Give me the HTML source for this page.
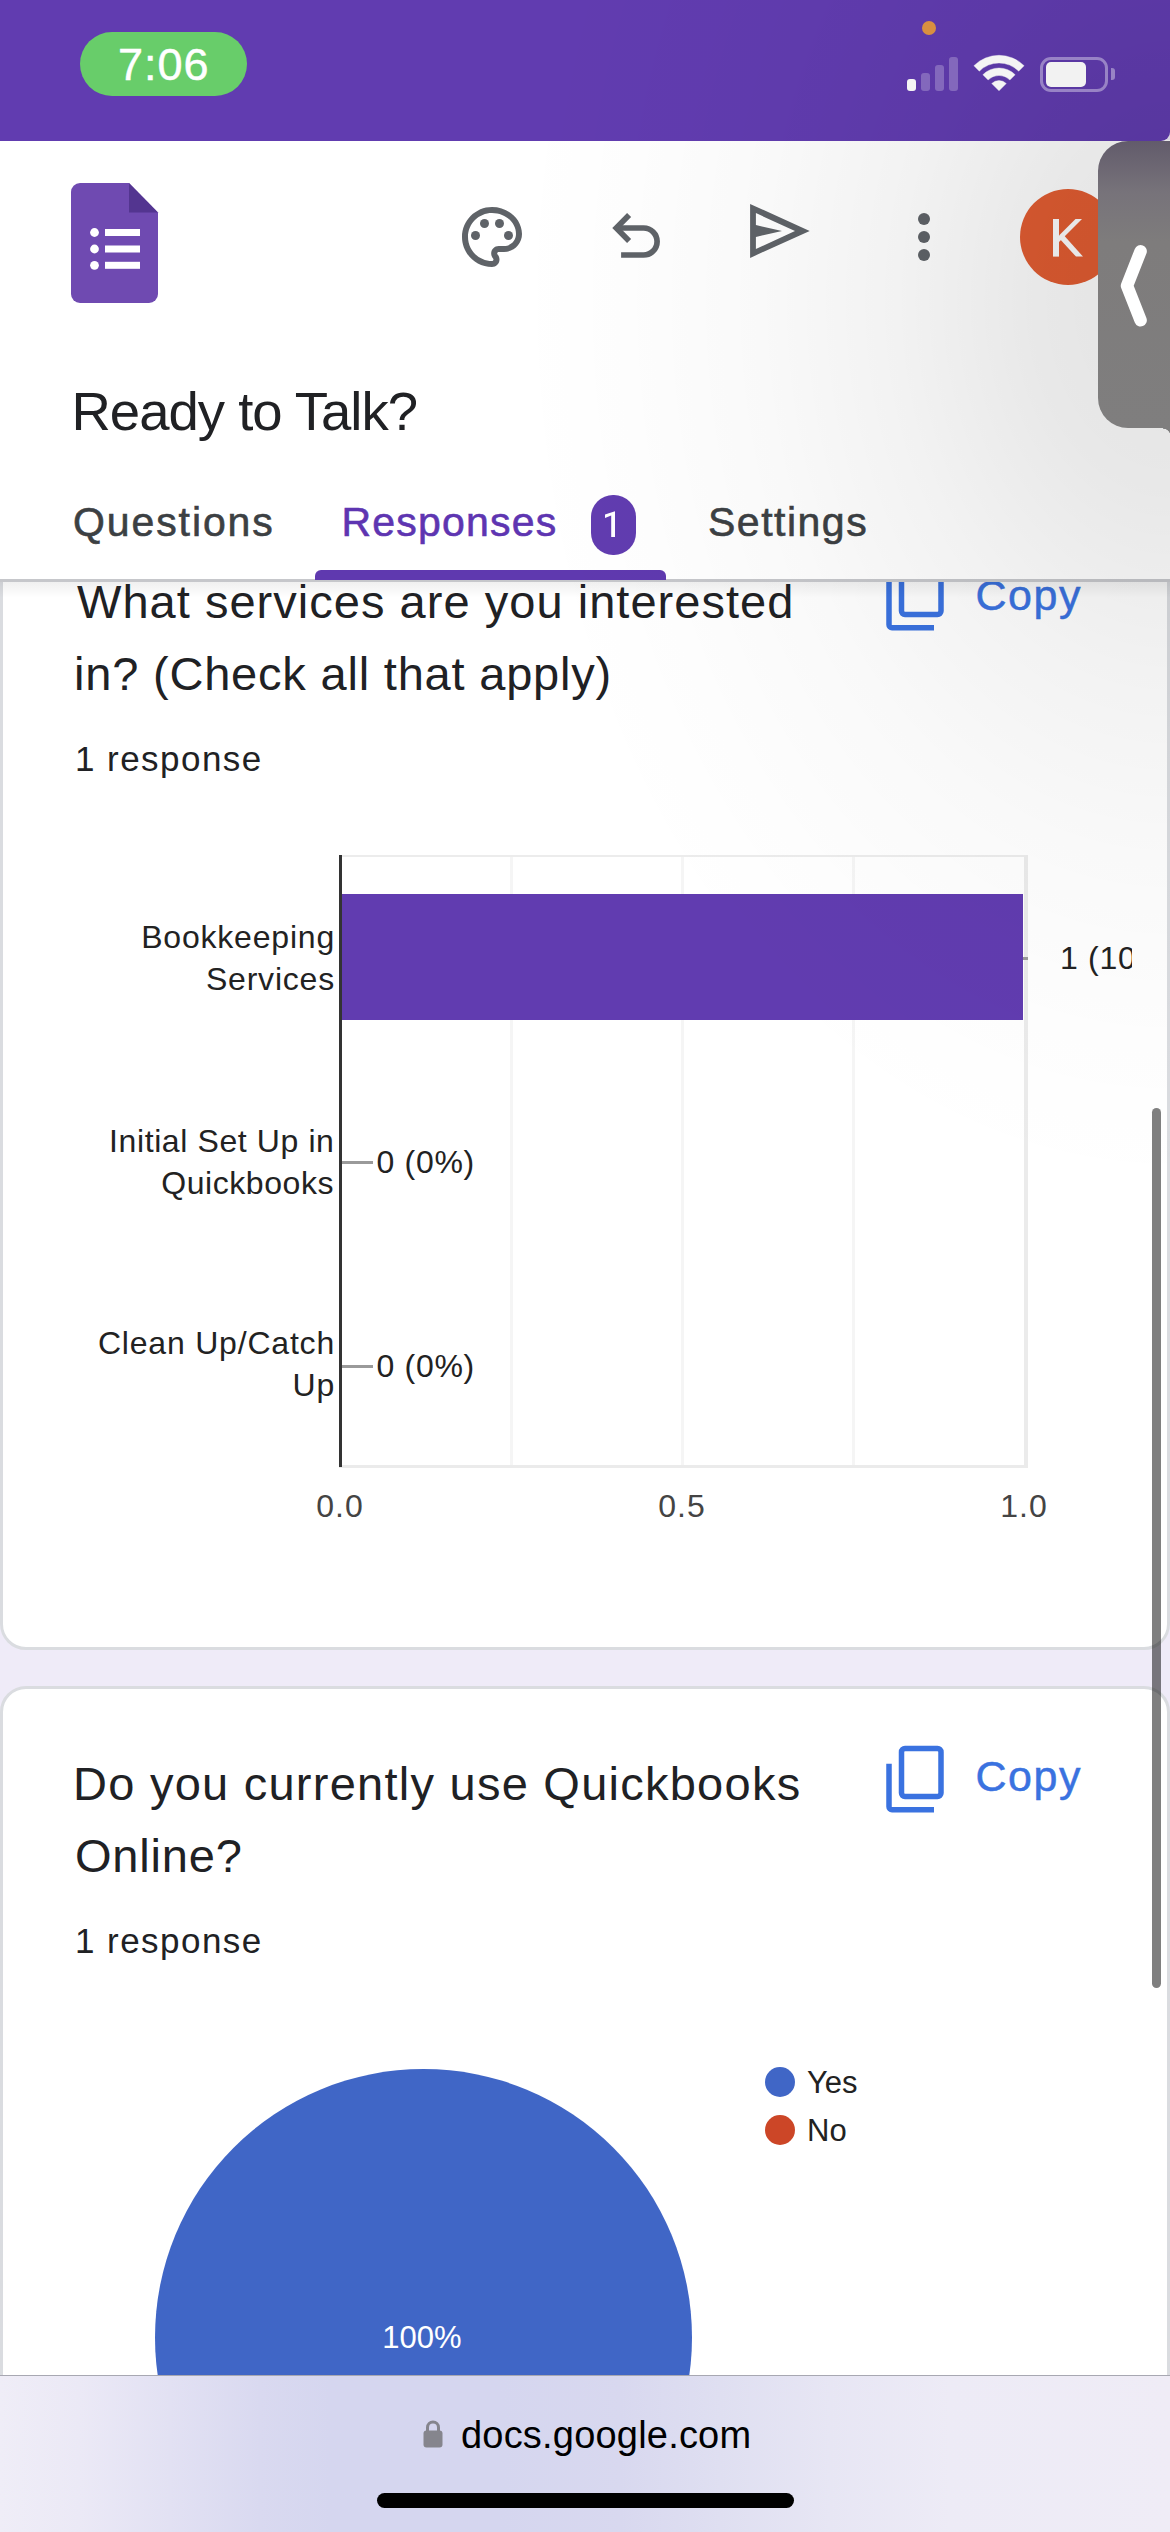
<!DOCTYPE html>
<html><head><meta charset="utf-8">
<style>
*{margin:0;padding:0;box-sizing:border-box}
html,body{width:1170px;height:2532px;overflow:hidden;background:#efebf8;font-family:"Liberation Sans",sans-serif}
.a{position:absolute}
.card{position:absolute;left:0;width:1170px;background:#fff;border:3px solid #dadce0;border-radius:26px}
.t{position:absolute;white-space:nowrap;line-height:1}
.ch{position:absolute;white-space:nowrap;line-height:1;font-size:32px;color:#222}
.cp{position:absolute;white-space:nowrap;line-height:1;font-size:43px;color:#3a72e0;letter-spacing:1.5px;-webkit-text-stroke:0.5px #3a72e0}
</style></head>
<body>
<!-- ============ CARD 1 ============ -->
<div class="card" style="top:505px;height:1145px"></div>
<div class="t" style="left:77px;top:578px;font-size:47px;color:#202124;letter-spacing:1.03px">What services are you interested</div>
<div class="t" style="left:74px;top:650px;font-size:47px;color:#202124;letter-spacing:0.8px">in? (Check all that apply)</div>
<div class="t" style="left:75px;top:741px;font-size:35px;color:#202124;letter-spacing:1.45px">1 response</div>
<svg class="a" style="left:880px;top:555px" width="70" height="80" viewBox="0 0 70 80">
 <path d="M9 26.8 V69.8 a3 3 0 0 0 3 3 H54" fill="none" stroke="#3a72e0" stroke-width="5.5"/>
 <rect x="21.5" y="11.5" width="39.5" height="48" rx="3.5" fill="none" stroke="#3a72e0" stroke-width="5.5"/>
</svg>
<div class="cp" style="left:975.5px;top:574px">Copy</div>

<!-- bar chart -->
<div class="a" style="left:339px;top:855px;width:689px;height:613px;border-top:2px solid #ececec;border-bottom:3px solid #ebebeb;border-right:4px solid #ebebeb"></div>
<div class="a" style="left:510px;top:857px;width:3px;height:608px;background:#f5f5f5"></div>
<div class="a" style="left:681px;top:857px;width:3px;height:608px;background:#f5f5f5"></div>
<div class="a" style="left:852px;top:857px;width:3px;height:608px;background:#f5f5f5"></div>
<div class="a" style="left:342px;top:894px;width:681px;height:126px;background:#613cb0"></div>
<div class="a" style="left:339px;top:855px;width:3px;height:612px;background:#333"></div>
<div class="a" style="left:342px;top:1161px;width:31px;height:3px;background:#9a9a9a"></div>
<div class="a" style="left:342px;top:1365px;width:31px;height:3px;background:#9a9a9a"></div>
<div class="a" style="left:1023px;top:957px;width:5px;height:3px;background:#9a9a9a"></div>
<div class="ch" style="right:835px;top:921px;text-align:right;letter-spacing:0.8px">Bookkeeping</div>
<div class="ch" style="right:835px;top:963px;text-align:right;letter-spacing:0.8px">Services</div>
<div class="ch" style="right:835.5px;top:1125px;text-align:right;letter-spacing:0.6px">Initial Set Up in</div>
<div class="ch" style="right:836px;top:1167px;text-align:right;letter-spacing:0.55px">Quickbooks</div>
<div class="ch" style="right:835px;top:1327px;text-align:right;letter-spacing:0.8px">Clean Up/Catch</div>
<div class="ch" style="right:835px;top:1369px;text-align:right;letter-spacing:0.8px">Up</div>
<div class="ch" style="left:376.5px;top:1146px;letter-spacing:0.7px">0 (0%)</div>
<div class="ch" style="left:376.5px;top:1350px;letter-spacing:0.7px">0 (0%)</div>
<div class="a" style="left:1060px;top:938px;width:72px;height:45px;overflow:hidden"><div class="ch" style="left:0;top:4px;letter-spacing:0.7px">1 (100%)</div></div>
<div class="ch" style="left:300px;top:1490px;width:80px;text-align:center;color:#444;letter-spacing:1px">0.0</div>
<div class="ch" style="left:642px;top:1490px;width:80px;text-align:center;color:#444;letter-spacing:1px">0.5</div>
<div class="ch" style="left:984px;top:1490px;width:80px;text-align:center;color:#444;letter-spacing:1px">1.0</div>

<!-- ============ CARD 2 ============ -->
<div class="card" style="top:1686px;height:1000px"></div>
<div class="t" style="left:73px;top:1760px;font-size:47px;color:#202124;letter-spacing:1.25px">Do you currently use Quickbooks</div>
<div class="t" style="left:75px;top:1832px;font-size:47px;color:#202124;letter-spacing:0.8px">Online?</div>
<div class="t" style="left:75px;top:1923px;font-size:35px;color:#202124;letter-spacing:1.45px">1 response</div>
<svg class="a" style="left:880px;top:1737px" width="70" height="80" viewBox="0 0 70 80">
 <path d="M9 26.8 V69.8 a3 3 0 0 0 3 3 H54" fill="none" stroke="#3a72e0" stroke-width="5.5"/>
 <rect x="21.5" y="11.5" width="39.5" height="48" rx="3.5" fill="none" stroke="#3a72e0" stroke-width="5.5"/>
</svg>
<div class="cp" style="left:975.5px;top:1755px">Copy</div>

<!-- pie chart -->
<div class="a" style="left:154.5px;top:2068.5px;width:537px;height:537px;border-radius:50%;background:#4066c6"></div>
<div class="ch" style="left:342px;top:2322px;width:160px;text-align:center;color:#fff;font-size:31px">100%</div>
<div class="a" style="left:765px;top:2067px;width:30px;height:30px;border-radius:50%;background:#4066c6"></div>
<div class="a" style="left:765px;top:2115px;width:30px;height:30px;border-radius:50%;background:#cc4627"></div>
<div class="ch" style="left:807px;top:2067px;font-size:31px">Yes</div>
<div class="ch" style="left:807px;top:2115px;font-size:31px">No</div>

<!-- ============ HEADER ============ -->
<div class="a" style="left:0;top:140px;width:1170px;height:442px;background:#fff;border-bottom:3px solid #c6c7cb"></div>
<div class="a" style="left:0;top:582px;width:1170px;height:16px;background:linear-gradient(rgba(0,0,0,0.06),rgba(0,0,0,0))"></div>
<svg class="a" style="left:70.5px;top:182px" width="89" height="122" viewBox="0 0 89 122">
 <path d="M9 1 H58 L87 30.5 V112 a9 9 0 0 1 -9 9 H9 a9 9 0 0 1 -9 -9 V10 a9 9 0 0 1 9 -9z" fill="#6f4ab1"/>
 <path d="M58 1 L87 30.5 H58z" fill="#533590"/>
 <circle cx="23.5" cy="50.5" r="4.4" fill="#fff"/>
 <circle cx="23.5" cy="67" r="4.4" fill="#fff"/>
 <circle cx="23.5" cy="83.3" r="4.4" fill="#fff"/>
 <rect x="34" y="47" width="35" height="7" fill="#fff"/>
 <rect x="34" y="63.5" width="35" height="7" fill="#fff"/>
 <rect x="34" y="79.8" width="35" height="7" fill="#fff"/>
</svg>
<div class="t" style="left:71.5px;top:385.3px;font-size:54.5px;color:#202124;letter-spacing:-1px">Ready to Talk?</div>
<div class="t" style="left:73px;top:502px;font-size:41px;color:#3c4043;letter-spacing:1.9px;-webkit-text-stroke:0.6px #3c4043">Questions</div>
<div class="t" style="left:341.5px;top:502px;font-size:41px;color:#5e35b1;letter-spacing:1.2px;-webkit-text-stroke:0.6px #5e35b1">Responses</div>
<div class="a" style="left:591px;top:495px;width:45px;height:60px;border-radius:22px;background:#613cb0"></div>
<svg class="a" style="left:600px;top:505px" width="20" height="36" viewBox="600 505 20 36"><path d="M605 514.6 L615 511.2 L615 537 L611.2 537 L611.2 515.6 L605 517.9Z" fill="#fff"/></svg>
<div class="t" style="left:708px;top:502px;font-size:41px;color:#3c4043;letter-spacing:1.5px;-webkit-text-stroke:0.6px #3c4043">Settings</div>
<div class="a" style="left:315px;top:570px;width:351px;height:10px;border-radius:6px 6px 0 0;background:#5f39af"></div>

<!-- header icons -->
<svg class="a" style="left:456px;top:201px" width="72" height="72" viewBox="0 0 24 24" fill="#5f6368">
 <path d="M12 22C6.49 22 2 17.51 2 12S6.49 2 12 2s10 4.04 10 9c0 3.31-2.69 6-6 6h-1.770c-.28 0-.5.22-.5.5 0 .12.05.23.13.33.41.47.64 1.06.64 1.67 0 1.380-1.120 2.5-2.5 2.5zm0-18c-4.41 0-8 3.59-8 8s3.59 8 8 8c.28 0 .5-.22.5-.5 0-.16-.08-.28-.14-.35-.41-.46-.63-1.05-.63-1.65 0-1.38 1.12-2.5 2.5-2.5H16c2.21 0 4-1.79 4-4 0-3.86-3.59-7-8-7z"/>
 <circle cx="6.5" cy="11.5" r="1.5"/><circle cx="9.5" cy="7.5" r="1.5"/><circle cx="14.5" cy="7.5" r="1.5"/><circle cx="17.5" cy="11.5" r="1.5"/>
</svg>
<svg class="a" style="left:600px;top:200px" width="72" height="72" viewBox="600 200 72 72" fill="none" stroke="#5f6368" stroke-width="5.7">
 <path d="M629.1 215.1 L616.3 228 L629.1 240.9"/>
 <path d="M616 228 H643.6 A13.5 13.5 0 0 1 643.6 255 H621.1"/>
</svg>
<svg class="a" style="left:740px;top:195px" width="80" height="75" viewBox="0 0 80 75">
 <path fill="#5f6368" fill-rule="evenodd" d="M10.1 8.9 L69.7 35.9 L10.1 62.9Z M15.9 18.1 L55 35.9 L15.9 54 L15.9 42 L42 35.9 L15.9 30.1Z"/>
</svg>
<svg class="a" style="left:910px;top:205px" width="28" height="64" viewBox="910 205 28 64" fill="#5f6368">
 <circle cx="924" cy="219" r="6"/><circle cx="924" cy="237" r="6"/><circle cx="924" cy="255" r="6"/>
</svg>
<div class="a" style="left:1020px;top:189px;width:96px;height:96px;border-radius:50%;background:#e35d32"></div>
<svg class="a" style="left:1045px;top:212px" width="45" height="50" viewBox="1045 212 45 50" fill="#fff"><rect x="1053" y="219" width="6" height="37.6"/><path d="M1075.5 219 L1082 219 L1059 242 L1059 235.5Z"/><path d="M1063.2 234.6 L1083 256.6 L1076 256.6 L1059.4 238.4Z"/></svg>

<!-- ============ STATUS BAR ============ -->
<div class="a" style="left:0;top:0;width:1170px;height:141px;background:#613cb0;border-radius:0 0 9px 0"></div>
<!-- shadow overlay -->
<div class="a" style="left:0;top:0;width:1170px;height:1300px;background:radial-gradient(ellipse 660px 900px at 1170px 301px,rgba(0,0,0,0.11) 0%,rgba(0,0,0,0.09) 20.8%,rgba(0,0,0,0.05) 41.7%,rgba(0,0,0,0.022) 62.5%,rgba(0,0,0,0.008) 83.3%,rgba(0,0,0,0) 100%)"></div>
<!-- status icons -->
<div class="a" style="left:80px;top:32px;width:167px;height:64px;border-radius:32px;background:#68cd6a"></div>
<div class="t" style="left:118px;top:41.5px;font-size:45px;color:#fff;letter-spacing:1px;-webkit-text-stroke:0.5px #fff">7:06</div>
<div class="a" style="left:922px;top:21px;width:14px;height:14px;border-radius:50%;background:#d98f40"></div>
<div class="a" style="left:907px;top:79px;width:9px;height:12px;border-radius:3px;background:#f4f4f4"></div>
<div class="a" style="left:921px;top:73px;width:9px;height:18px;border-radius:3px;background:rgba(255,255,255,0.24)"></div>
<div class="a" style="left:935px;top:65px;width:9px;height:26px;border-radius:3px;background:rgba(255,255,255,0.24)"></div>
<div class="a" style="left:949px;top:57px;width:9px;height:34px;border-radius:3px;background:rgba(255,255,255,0.24)"></div>
<svg class="a" style="left:970px;top:50px" width="60" height="45" viewBox="970 50 60 45" fill="#f4f4f4" stroke="#f4f4f4" stroke-width="0.4" stroke-linejoin="round">
 <path d="M973.9 65.7 A35.5 35.5 0 0 1 1024.1 65.7 L1018.66 71.14 A27.8 27.8 0 0 0 979.34 71.14 Z"/>
 <path d="M982.88 74.68 A22.8 22.8 0 0 1 1015.12 74.68 L1009.89 79.91 A15.4 15.4 0 0 0 988.11 79.91 Z"/>
 <path d="M991.72 83.52 A10.3 10.3 0 0 1 1006.28 83.52 L999 90.8 Z"/>
</svg>
<div class="a" style="left:1040px;top:57px;width:68px;height:35px;border-radius:11px;border:3px solid rgba(255,255,255,0.38)"></div>
<div class="a" style="left:1046px;top:62px;width:40px;height:24.5px;border-radius:5px;background:#f2f2f2"></div>
<div class="a" style="left:1111px;top:68px;width:4px;height:12px;border-radius:0 3px 3px 0;background:rgba(255,255,255,0.38)"></div>

<!-- side tab -->
<div class="a" style="left:1098px;top:141px;width:80px;height:287px;border-radius:30px 0 0 30px;background:linear-gradient(#625b6b,#77737a 18%,#7e7c7c 35%,#7f7e7e)"></div>
<div class="a" style="left:1163px;top:428px;width:7px;height:8px;background:radial-gradient(circle at 0 100%,rgba(127,126,126,0) 7px,#7f7e7e 7.6px)"></div>
<svg class="a" style="left:1110px;top:240px" width="45" height="92" viewBox="1110 240 45 92">
 <path d="M1140.6 251.2 L1127 285.7 L1140.6 320.3" fill="none" stroke="#fff" stroke-width="12.5" stroke-linecap="round" stroke-linejoin="round"/>
</svg>

<!-- ============ BOTTOM BAR ============ -->
<div class="a" style="left:0;top:2375px;width:1170px;height:157px;border-top:1px solid #a8a8b2;background:linear-gradient(90deg,#efedf7 0px,#ebe9f6 80px,#e2e1f3 170px,#d9d9f0 260px,#d5d6ef 330px,#d5d6ef 500px,#d8d8ef 620px,#dfdff1 720px,#e7e6f4 830px,#edebf6 950px,#efecf6 1170px)"></div>
<svg class="a" style="left:420px;top:2418px" width="26" height="32" viewBox="0 0 26 32">
 <path d="M7.5 13 V9.5 a5.5 5.5 0 0 1 11 0 V13" fill="none" stroke="#85858d" stroke-width="3"/>
 <rect x="3.5" y="12.5" width="19" height="17" rx="3" fill="#85858d"/>
</svg>
<div class="t" style="left:461px;top:2416px;font-size:38px;color:#000;letter-spacing:0.2px">docs.google.com</div>
<div class="a" style="left:377px;top:2493px;width:417px;height:15px;border-radius:8px;background:#000"></div>
<!-- scrollbar -->
<div class="a" style="left:1152px;top:1108px;width:9px;height:880px;border-radius:5px;background:rgba(0,0,0,0.5)"></div>
</body></html>
